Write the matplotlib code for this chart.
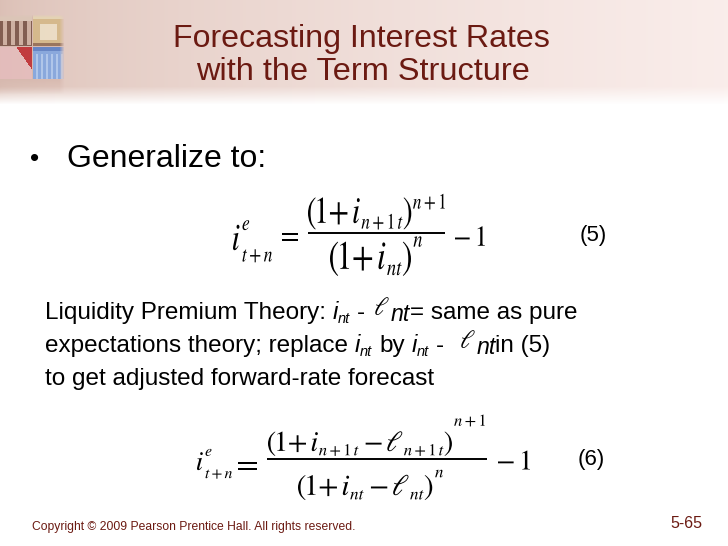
import matplotlib
matplotlib.use("Agg")
import matplotlib.pyplot as plt
import numpy as np
from matplotlib.font_manager import FontProperties
from matplotlib.textpath import TextPath
from matplotlib.patches import PathPatch
from matplotlib.path import Path
from matplotlib.transforms import Affine2D

W, H = 728, 546
MAROON = "#6b1a12"
SANS = "Liberation Sans"

# slide text
title_lines = ["Forecasting Interest Rates", "with the Term Structure"]
bullet_text = "Generalize to:"

# formula pieces: (tex, scale, raise in em, gap before in em, stacked on previous)
SUB, SUP = 0.58, 0.58
lhs_parts = [("i", 1, 0, 0, False), ("e", SUP, 0.52, 0.1, False), ("t+n", SUB, -0.3, 0, True)]

eq5_num = [("(", 1, 0, 0, False), ("1", 1, 0, 0.06, False), ("+", 1, 0, 0.14, False),
           ("i", 1, 0, 0.2, False), (r"n+1\,t", SUB, -0.15, 0.06, False),
           (")", 1, 0, 0.04, False), ("n+1", SUP, 0.38, 0.06, False)]
eq5_den = [("(", 1, 0, 0, False), ("1", 1, 0, 0.06, False), ("+", 1, 0, 0.14, False),
           ("i", 1, 0, 0.2, False), ("nt", SUB, -0.15, 0.06, False),
           (")", 1, 0, 0.04, False), ("n", SUP, 0.55, 0.08, False)]
eq5_tag = "(5)"

eq6_num = [("(", 1, 0, 0, False), ("1", 1, 0, 0.06, False), ("+", 1, 0, 0.14, False),
           ("i", 1, 0, 0.2, False), (r"n+1\,t", SUB, -0.15, 0.04, False),
           ("-", 1, 0, 0.25, False), (r"\ell", 1, 0, 0.2, False),
           (r"n+1\,t", SUB, -0.15, 0.06, False),
           (")", 1, 0, 0.04, False), ("n+1", SUP, 0.88, 0.08, False)]
eq6_den = [("(", 1, 0, 0, False), ("1", 1, 0, 0.06, False), ("+", 1, 0, 0.14, False),
           ("i", 1, 0, 0.2, False), ("nt", SUB, -0.15, 0.04, False),
           ("-", 1, 0, 0.25, False), (r"\ell", 1, 0, 0.2, False),
           ("nt", SUB, -0.15, 0.06, False),
           (")", 1, 0, 0.04, False), ("n", SUP, 0.6, 0.1, False)]
eq6_tag = "(6)"

minus_one = [("-", 1, 0, 0, False), ("1", 1, 0, 0.3, False)]
equals = [("=", 1, 0, 0, False)]

# body lines: (text, style) pieces
line1 = [("Liquidity Premium Theory:", "rm"), (" ", "gap"), ("i", "it"), ("nt", "sub"),
         (" ", "gap"), ("-", "rm"), (" ", "gap"), ("ell", "ell"), ("nt", "itl"),
         ("= same as pure", "rm")]
line2 = [("expectations theory; replace", "rm"), (" ", "gap"), ("i", "it"), ("nt", "sub"),
         (" ", "gap"), ("by", "rm"), (" ", "gap"), ("i", "it"), ("nt", "sub"),
         (" ", "gap"), ("-", "rm"), (" ", "gap"), (" ", "gap"), ("ell", "ell"), ("nt", "itl"),
         ("in (5)", "rm")]
line3 = [("to get adjusted forward-rate forecast", "rm")]

copyright_text = "Copyright \u00a9 2009 Pearson Prentice Hall. All rights reserved."
slide_no = "5-65"

MATH_PROP = FontProperties(family="serif", math_fontfamily="stix")
BASE = 20.0


def build_row(parts):
    paths = []
    x = 0.0
    prev_start = 0.0
    for tex, scale, dy, gap, stack in parts:
        tp = TextPath((0, 0), "$" + tex + "$", size=BASE * scale, prop=MATH_PROP)
        ext = tp.get_extents()
        start = prev_start if stack else x + gap * BASE
        paths.append(Affine2D().translate(start - ext.x0, dy * BASE).transform_path(tp))
        prev_start = start
        x = max(x, start + ext.width)
    return Path.make_compound_path(*paths)


def math_fit(ax, parts, x0, x1, y, stretch=1.0, va="baseline"):
    """Draw a formula row as a path, scaled to span x0..x1 pixels."""
    path = build_row(parts)
    ext = path.get_extents()
    k = (x1 - x0) / ext.width
    if va == "center":
        y = y + (ext.y0 + ext.y1) / 2 * k * stretch
    tr = Affine2D().translate(-ext.x0, 0).scale(k, -k * stretch).translate(x0, y)
    ax.add_patch(PathPatch(tr.transform_path(path), fc="black", ec="none"))


def text_run(ax, renderer, x, y, pieces, size):
    space = 0.278 * size * 100 / 72
    for txt, style in pieces:
        if style == "gap":
            x += space
            continue
        if style == "rm":
            t = ax.text(x, y, txt, fontsize=size, family=SANS, va="baseline")
        elif style == "it":
            t = ax.text(x, y, txt, fontsize=size, family=SANS, style="italic", va="baseline")
        elif style == "sub":
            t = ax.text(x, y + 4, txt, fontsize=size * 0.6, family=SANS, style="italic", va="baseline")
        elif style == "itl":
            t = ax.text(x, y + 2, txt, fontsize=size * 0.95, family=SANS, style="italic", va="baseline")
        else:
            t = ax.text(x + 1, y - 4, r"$\ell$", fontsize=size * 1.05, math_fontfamily="stix", va="baseline")
        x += t.get_window_extent(renderer).width + (2 if style == "ell" else 0)


fig = plt.figure(figsize=(W / 100, H / 100), dpi=100)
ax = fig.add_axes([0, 0, 1, 1])
ax.set_xlim(0, W)
ax.set_ylim(H, 0)
ax.axis("off")
renderer = fig.canvas.get_renderer()

# header band
xs = np.linspace(0, 1, W)[None, :, None]
ys = np.arange(112)[:, None, None]
c_left = np.array([0.86, 0.75, 0.71])
c_right = np.array([0.98, 0.93, 0.92])
col = c_left + (c_right - c_left) * xs ** 0.6
fade = np.clip((104 - ys) / 18.0, 0, 1)
band = 1 - fade * (1 - col)
ax.imshow(band, extent=[0, W, 112, 0], aspect="auto", zorder=0)

# building logo (four tiles)
logo = np.zeros((80, 64, 4))
logo[..., :3] = [0.84, 0.72, 0.68]
logo[0:32, 0:32, :3] = [0.45, 0.30, 0.25]
logo[0:7, 0:32, :3] = [0.86, 0.78, 0.72]
for c0 in range(3, 30, 8):
    logo[7:31, c0:c0 + 4, :3] = [0.80, 0.68, 0.62]
logo[0:32, 33:64, :3] = [0.83, 0.72, 0.52]
logo[0:5, 33:64, :3] = [0.90, 0.84, 0.70]
logo[10:26, 40:57, :3] = [0.93, 0.88, 0.78]
logo[29:32, 33:64, :3] = [0.55, 0.40, 0.30]
rr, cc = np.mgrid[0:32, 0:32]
bl = np.ones((32, 32, 3)) * [0.90, 0.74, 0.74]
bl[(cc - 16) > rr * 0.7] = [0.74, 0.14, 0.16]
logo[33:65, 0:32, :3] = bl
logo[33:65, 33:64, :3] = [0.48, 0.64, 0.89]
for c0 in range(36, 62, 5):
    logo[40:65, c0:c0 + 2, :3] = [0.66, 0.78, 0.95]
logo[33:37, 33:64, :3] = [0.32, 0.48, 0.78]
rows = np.arange(80)[:, None]
cols = np.arange(64)[None, :]
alpha = np.clip((80 - rows) / 16.0, 0, 1) * np.clip((64 - cols) / 5.0, 0, 1) * np.clip(rows / 3.0, 0, 1)
logo[..., 3] = alpha * 0.85
ax.imshow(logo, extent=[0, 64, 94, 14], aspect="auto", zorder=1)

# title
ax.text(361, 47, title_lines[0], ha="center", va="baseline", fontsize=23.1,
        family=SANS, color=MAROON, zorder=3)
ax.text(363, 80, title_lines[1], ha="center", va="baseline", fontsize=23.4,
        family=SANS, color=MAROON, zorder=3)

# bullet
ax.text(30, 166, "\u2022", va="baseline", fontsize=19, family=SANS)
ax.text(67, 167, bullet_text, va="baseline", fontsize=23, family=SANS)

# equation (5)
s5 = 1.27
math_fit(ax, lhs_parts, 233, 272, 250, s5)
math_fit(ax, equals, 282, 298, 237, 1.0, va="center")
math_fit(ax, eq5_num, 308, 445, 223, s5)
ax.plot([308, 445], [233, 233], color="black", lw=1.4, solid_capstyle="butt")
math_fit(ax, eq5_den, 330, 422, 269, s5)
math_fit(ax, minus_one, 455, 485, 236, 1.1, va="center")
ax.text(580, 235, eq5_tag, va="center", fontsize=16, family=SANS)

# body text
text_run(ax, renderer, 45, 319, line1, 17.5)
text_run(ax, renderer, 45, 352, line2, 17.5)
text_run(ax, renderer, 45, 385, line3, 17.5)

# equation (6)
s6 = 1.0
math_fit(ax, lhs_parts, 197, 232, 470, s6)
math_fit(ax, equals, 238, 257, 466, s6, va="center")
math_fit(ax, eq6_num, 268, 485, 451, s6)
ax.plot([267, 487], [459, 459], color="black", lw=1.4, solid_capstyle="butt")
math_fit(ax, eq6_den, 298, 443, 495, s6)
math_fit(ax, minus_one, 498, 530, 460, s6, va="center")
ax.text(578, 460, eq6_tag, va="center", fontsize=16, family=SANS)

# footer
ax.text(32, 530, copyright_text, va="baseline", fontsize=8.7, family=SANS, color=MAROON)
ax.text(702, 528, slide_no, ha="right", va="baseline", fontsize=11.5, family=SANS, color=MAROON)

fig.savefig("out.png", dpi=100)
